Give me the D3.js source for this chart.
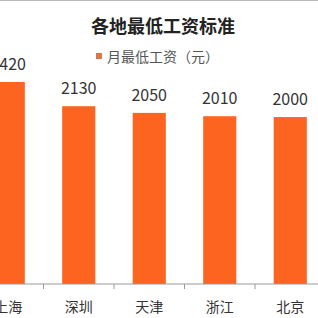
<meta charset="utf-8">
<script src="https://d3js.org/d3.v7.min.js"></script>
<style>
    body { margin: 0; background: #fff; }
    text { font-family: "Noto Sans CJK SC", "Noto Sans", sans-serif; }
</style>
<svg width="318" height="318"></svg>
<script>
    var cities = ["上海", "深圳", "天津", "浙江", "北京"];
    var wages = [2420, 2130, 2050, 2010, 2000];
    var chartTitle = "各地最低工资标准";
    var seriesName = "月最低工资（元）";

    var svg = d3.select("svg"),
        width = +svg.attr("width"),
        height = +svg.attr("height");

    var barColor = "#fd6420";

    // the picture is a crop, so the band range starts left of the frame
    var x = d3.scaleBand()
        .domain(cities)
        .range([-27, 325.5])
        .paddingInner(0.53)
        .paddingOuter(0.265);

    var y = d3.scaleLinear()
        .domain([0, 2420])
        .range([284, 82]);

    // thin frame line at the top
    svg.append("line")
        .attr("x1", 0).attr("x2", width)
        .attr("y1", 0.5).attr("y2", 0.5)
        .attr("stroke", "#bbb");

    svg.append("text")
        .attr("x", 163)
        .attr("y", 33)
        .attr("text-anchor", "middle")
        .attr("font-size", "18px")
        .attr("font-weight", "bold")
        .attr("fill", "#222")
        .text(chartTitle);

    // legend
    svg.append("rect")
        .attr("x", 96).attr("y", 53)
        .attr("width", 6).attr("height", 6)
        .attr("fill", "#d8784a");
    svg.append("text")
        .attr("x", 107)
        .attr("y", 62)
        .attr("font-size", "14px")
        .attr("fill", "#555")
        .text(seriesName);

    svg.selectAll(".bar")
        .data(wages)
        .enter().append("rect")
        .attr("class", "bar")
        .attr("x", function(d, i) { return x(cities[i]); })
        .attr("width", x.bandwidth())
        .attr("y", function(d) { return y(d); })
        .attr("height", function(d) { return y(0) - y(d); })
        .attr("fill", barColor);

    svg.selectAll(".val")
        .data(wages)
        .enter().append("text")
        .attr("class", "val")
        .attr("x", function(d, i) { return x(cities[i]) + x.bandwidth() / 2; })
        .attr("y", function(d) { return y(d) - 12; })
        .attr("text-anchor", "middle")
        .attr("font-size", "16px")
        .attr("fill", "#333")
        .text(function(d) { return d; });

    // axis with ticks between the bars
    var ax = svg.append("g")
        .attr("transform", "translate(0," + y(0) + ")");
    ax.append("line")
        .attr("x1", 0).attr("x2", width)
        .attr("stroke", "#999");
    ax.selectAll(".tick")
        .data(cities.slice(1))
        .enter().append("line")
        .attr("x1", function(d) { return x(d) - x.step() * x.paddingInner() / 2; })
        .attr("x2", function(d) { return x(d) - x.step() * x.paddingInner() / 2; })
        .attr("y1", 0).attr("y2", 5)
        .attr("stroke", "#999");
    ax.selectAll(".lab")
        .data(cities)
        .enter().append("text")
        .attr("x", function(d) { return x(d) + x.bandwidth() / 2; })
        .attr("y", 28)
        .attr("text-anchor", "middle")
        .attr("font-size", "14px")
        .attr("fill", "#333")
        .text(function(d) { return d; });
</script>
